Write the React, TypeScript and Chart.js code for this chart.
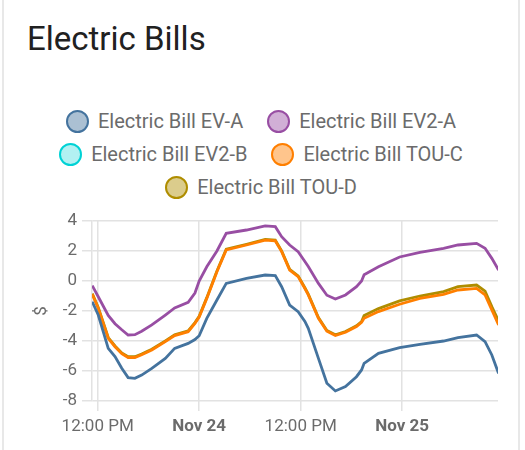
import React, { useEffect, useRef } from "react";
import { Chart, registerables } from "chart.js";

Chart.register(...registerables);

const chartTitle = "Electric Bills";
const yAxisTitle = "$";

const seriesNames = [
  "Electric Bill EV-A",
  "Electric Bill EV2-A",
  "Electric Bill EV2-B",
  "Electric Bill TOU-C",
  "Electric Bill TOU-D",
];
const seriesColors = ["#44739e", "#984ea3", "#00d2d5", "#ff7f00", "#af8d00"];
const seriesFills = [
  "rgba(68,115,158,0.45)",
  "rgba(152,78,163,0.45)",
  "rgba(0,210,213,0.3)",
  "rgba(255,127,0,0.45)",
  "rgba(175,141,0,0.45)",
];

// hours relative to 12:00 PM Nov 23
const hours = [
  -0.64, 0.07, 1.25, 2.05, 2.85, 3.6, 4.4, 5.2, 6.4, 8.0, 9.1, 10.7, 11.5, 12.0,
  12.9, 14.1, 15.2, 17.6, 19.8, 21.0, 21.75, 22.7, 23.7, 24.5, 24.9, 26.1, 27.1,
  28.1, 29.3, 30.6, 31.2, 31.5, 33.2, 35.7, 38.1, 40.9, 42.6, 44.8, 45.8, 46.6,
  47.4,
];

const billEVA = [
  -1.38, -2.27, -4.49, -5.04, -5.82, -6.44, -6.49, -6.27, -5.82, -5.16, -4.49,
  -4.16, -3.9, -3.65, -2.49, -1.27, -0.16, 0.18, 0.4, 0.36, -0.38, -1.6, -2.04,
  -2.7, -3.16, -5.16, -6.82, -7.33, -7.04, -6.38, -5.93, -5.49, -4.82, -4.44,
  -4.22, -4.0, -3.78, -3.6, -4.04, -4.93, -6.16,
];

const billEV2A = [
  -0.31, -1.05, -2.3, -2.85, -3.25, -3.6, -3.58, -3.35, -2.93, -2.27, -1.8,
  -1.42, -0.8, 0.0, 0.95, 2.0, 3.18, 3.4, 3.67, 3.62, 2.95, 2.4, 1.95, 1.3, 0.96,
  -0.16, -0.95, -1.2, -0.93, -0.38, 0.0, 0.42, 0.95, 1.6, 1.91, 2.18, 2.4, 2.51,
  2.18, 1.51, 0.73,
];

const billEV2B: number[] = [];

const billTOUC = [
  -0.89, -1.82, -3.82, -4.38, -4.85, -5.1, -5.1, -4.92, -4.6, -4.04, -3.64,
  -3.38, -2.82, -2.4, -1.16, 0.62, 2.07, 2.4, 2.73, 2.67, 1.96, 0.73, 0.29, -0.5,
  -0.93, -2.49, -3.35, -3.64, -3.42, -3.04, -2.76, -2.49, -2.04, -1.55, -1.16,
  -0.89, -0.6, -0.49, -0.93, -1.93, -2.93,
];

const billTOUD = [
  -0.84, -1.77, -3.77, -4.33, -4.8, -5.05, -5.05, -4.87, -4.55, -3.99, -3.59,
  -3.33, -2.77, -2.35, -1.11, 0.67, 2.12, 2.45, 2.78, 2.72, 2.01, 0.78, 0.34,
  -0.45, -0.88, -2.44, -3.3, -3.59, -3.37, -2.99, -2.71, -2.3, -1.84, -1.33,
  -1.0, -0.71, -0.38, -0.27, -0.67, -1.71, -2.67,
];

const seriesValues = [billEVA, billEV2A, billEV2B, billTOUC, billTOUD];

const xMin = -0.67;
const xMax = 47.33;
const xTickHours = [0, 12, 24, 36];
const xTickLabels = ["12:00 PM", "Nov 24", "12:00 PM", "Nov 25"];
const xTickBold = [false, true, false, true];
const yMin = -8;
const yMax = 4;
const yStep = 2;

const FONT = "Roboto, 'Noto Sans', sans-serif";
const TICK_COLOR = "#6b6b6b";
const GRID_COLOR = "#e2e2e2";

export default function App() {
  const canvasRef = useRef<HTMLCanvasElement | null>(null);

  useEffect(() => {
    document.body.style.margin = "0";
    const canvas = canvasRef.current;
    if (!canvas) return;
    const chart = new Chart(canvas, {
      type: "line",
      data: {
        datasets: seriesNames.map((name, i) => ({
          label: name,
          data: seriesValues[i].map((v, j) => ({ x: hours[j], y: v })),
          borderColor: seriesColors[i],
          backgroundColor: seriesFills[i],
          borderWidth: 2.8,
          pointRadius: 0,
          tension: 0,
          fill: false,
        })),
      },
      options: {
        animation: false,
        responsive: true,
        maintainAspectRatio: false,
        layout: { padding: { top: 16, right: 21, left: 0, bottom: 0 } },
        plugins: {
          legend: { display: false },
          tooltip: { enabled: false },
        },
        scales: {
          x: {
            type: "linear",
            min: xMin,
            max: xMax,
            afterBuildTicks: (scale: any) => {
              scale.ticks = xTickHours.map((v) => ({ value: v }));
            },
            afterFit: (scale: any) => {
              scale.height = 49;
            },
            ticks: {
              autoSkip: false,
              maxRotation: 0,
              padding: 6,
              color: TICK_COLOR,
              font: (ctx: any) => {
                const idx = xTickHours.indexOf(ctx.tick ? ctx.tick.value : NaN);
                return {
                  family: FONT,
                  size: 17,
                  weight: idx >= 0 && xTickBold[idx] ? "bold" : "normal",
                };
              },
              callback: (value: any) => {
                const idx = xTickHours.indexOf(Number(value));
                return idx >= 0 ? xTickLabels[idx] : "";
              },
            },
            grid: { color: GRID_COLOR, lineWidth: 1.5, tickLength: 10 },
            border: { display: false },
          },
          y: {
            min: yMin,
            max: yMax,
            afterFit: (scale: any) => {
              scale.width = 89;
            },
            ticks: {
              stepSize: yStep,
              padding: 5,
              color: TICK_COLOR,
              font: { family: FONT, size: 17 },
            },
            grid: { color: GRID_COLOR, lineWidth: 1.5, tickLength: 10 },
            border: { display: true, color: GRID_COLOR, width: 1.5 },
            title: {
              display: true,
              text: yAxisTitle,
              color: TICK_COLOR,
              font: { family: FONT, size: 17 },
              padding: { top: 28.8, bottom: 0 },
            },
          },
        },
      } as any,
    });
    return () => chart.destroy();
  }, []);

  return (
    <div
      style={{
        position: "absolute",
        left: 0,
        top: 0,
        width: 525,
        height: 450,
        overflow: "hidden",
        background: "#fff",
        fontFamily: FONT,
      }}
    >
      <div
        style={{
          position: "absolute",
          left: 2,
          top: -10,
          width: 518,
          height: 480,
          boxSizing: "border-box",
          border: "2px solid #e8e8e8",
        }}
      />
      <div
        style={{
          position: "absolute",
          left: 27,
          top: 22,
          fontSize: 33,
          lineHeight: "33px",
          color: "#212121",
          whiteSpace: "nowrap",
        }}
      >
        {chartTitle}
      </div>
      <div
        style={{
          position: "absolute",
          left: 2,
          top: 105,
          width: 518,
          display: "flex",
          flexWrap: "wrap",
          justifyContent: "center",
        }}
      >
        {seriesNames.map((name, i) => (
          <div
            key={name}
            style={{
              display: "flex",
              alignItems: "center",
              height: 33,
              margin: "0 12px",
            }}
          >
            <div
              style={{
                width: 23,
                height: 23,
                boxSizing: "border-box",
                borderRadius: "50%",
                border: `2px solid ${seriesColors[i]}`,
                background: seriesFills[i],
                marginRight: 9,
                flexShrink: 0,
              }}
            />
            <span
              style={{
                fontSize: 20,
                lineHeight: "33px",
                color: TICK_COLOR,
                whiteSpace: "nowrap",
              }}
            >
              {name}
            </span>
          </div>
        ))}
      </div>
      <div
        style={{
          position: "absolute",
          left: 3,
          top: 205,
          width: 516,
          height: 245,
        }}
      >
        <canvas ref={canvasRef} />
      </div>
    </div>
  );
}
